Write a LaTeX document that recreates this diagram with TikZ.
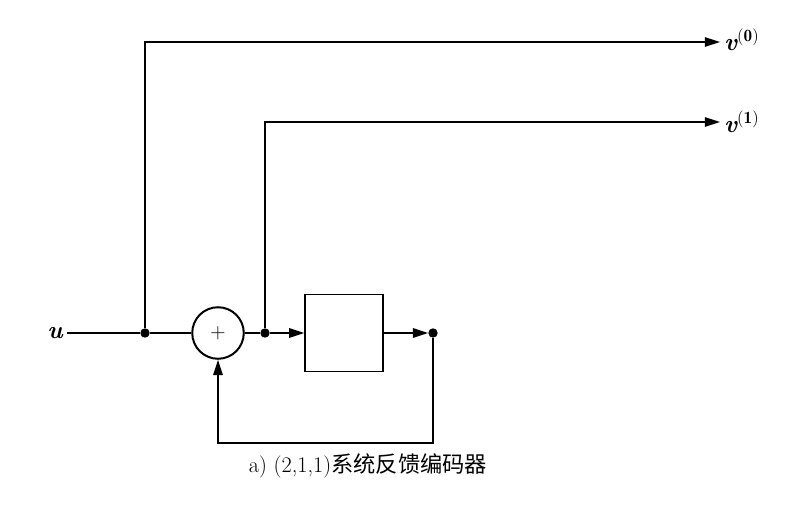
\documentclass[tikz,border=0pt]{standalone}
\usepackage{fontspec}
\newfontfamily\cjk{Noto Sans CJK SC}
\usetikzlibrary{arrows.meta}
\begin{document}
\begin{tikzpicture}[x=0.03cm,y=-0.03cm,
  line/.style={line width=1.7pt},
  arr/.style={line, -{Triangle[length=13pt,width=8pt]}},
  dotn/.style={circle,fill,inner sep=0pt,minimum size=8pt},
  lbl/.style={font=\fontsize{21}{24}\selectfont\bfseries\itshape}]
\useasboundingbox (0,0) rectangle (811,508);
\node[lbl] (u) at (55,333) {u};
\node[dotn] (d1) at (145,333) {};
\node[circle,draw,line width=1.7pt,minimum size=44pt,inner sep=0pt] (add) at (218,333) {\fontsize{18}{20}\selectfont +};
\node[dotn] (d2) at (265,333) {};
\node[draw,line width=1.2pt,minimum width=78*0.03cm,minimum height=77*0.03cm] (reg) at (344,333) {};
\node[dotn] (d3) at (433,333) {};
\node[lbl,anchor=west] (v0) at (720,40) {v$^{\mathbf{(0)}}$};
\node[lbl,anchor=west] (v1) at (720,122) {v$^{\mathbf{(1)}}$};
\coordinate (c0) at (145,42);
\coordinate (c1) at (265,122);
\coordinate (f1) at (433,443);
\coordinate (f2) at (218,443);
\draw[line] (u.east) -- (d1);
\draw[line] (d1) -- (add.west);
\draw[line] (add.east) -- (d2);
\draw[arr] (d2) -- (reg.west);
\draw[arr] (reg.east) -- (d3);
\draw[arr] (d1) -- (c0) -- (v0.west |- c0);
\draw[arr] (d2) -- (c1) -- (v1.west |- c1);
\draw[arr] (d3) -- (f1) -- (f2) -- (add.south);
\node[font=\fontsize{19}{22}\selectfont] (cap) at (368,466) {a) (2,1,1){\cjk 系统反馈编码器}};
\end{tikzpicture}
\end{document}
